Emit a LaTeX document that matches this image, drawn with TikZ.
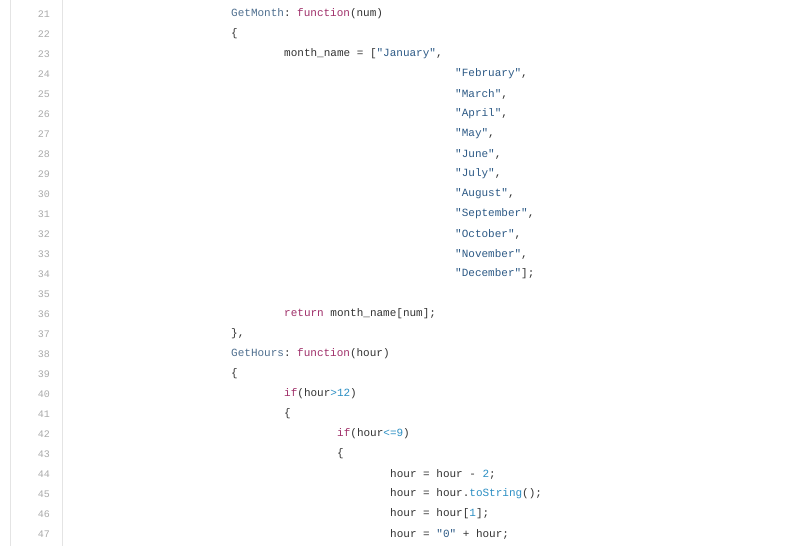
\documentclass[tikz,border=0pt]{standalone}
\usepackage{fontspec}
\setmonofont{Liberation Mono}
\usepackage{xcolor}
\definecolor{kw}{HTML}{A0306A}
\definecolor{fn}{HTML}{4F6F8F}
\definecolor{str}{HTML}{2D5A86}
\definecolor{num}{HTML}{2C8FC4}
\definecolor{txt}{HTML}{333333}
\definecolor{lnum}{HTML}{AAAAAA}
\definecolor{rule}{HTML}{E4E4E4}
\newcommand{\kw}[1]{\textcolor{kw}{#1}}
\newcommand{\fnc}[1]{\textcolor{fn}{#1}}
\newcommand{\str}[1]{\textcolor{str}{#1}}
\newcommand{\nm}[1]{\textcolor{num}{#1}}
\begin{document}
\begin{tikzpicture}[x=1pt,y=-1pt,
  code/.style={anchor=west,inner sep=0pt,font=\ttfamily\fontsize{11}{11}\selectfont,text=txt},
  lineno/.style={anchor=east,inner sep=0pt,font=\ttfamily\fontsize{10}{10}\selectfont,text=lnum}]
	\useasboundingbox[fill=white] (0,0) rectangle (789,546);
	
	% gutter
	\draw[rule] (10.5,0) -- (10.5,546);
	\draw[rule] (62.5,0) -- (62.5,546);
	\foreach \n in {21,...,47}
		\node[lineno] (L\n) at (50,{14+20*(\n-21)}) {\n};
	
	% code lines
	\node[code] (C21) at (231,14) {\fnc{GetMonth}: \kw{function}(num)};
	\node[code] (C22) at (231,34) {\{};
	\node[code] (C23) at (284,54) {month\_name = [\str{"January"},};
	\node[code] (C24) at (455,74) {\str{"February"},};
	\node[code] (C25) at (455,94) {\str{"March"},};
	\node[code] (C26) at (455,114) {\str{"April"},};
	\node[code] (C27) at (455,134) {\str{"May"},};
	\node[code] (C28) at (455,154) {\str{"June"},};
	\node[code] (C29) at (455,174) {\str{"July"},};
	\node[code] (C30) at (455,194) {\str{"August"},};
	\node[code] (C31) at (455,214) {\str{"September"},};
	\node[code] (C32) at (455,234) {\str{"October"},};
	\node[code] (C33) at (455,254) {\str{"November"},};
	\node[code] (C34) at (455,274) {\str{"December"}];};
	\node[code] (C36) at (284,314) {\kw{return} month\_name[num];};
	\node[code] (C37) at (231,334) {\},};
	\node[code] (C38) at (231,354) {\fnc{GetHours}: \kw{function}(hour)};
	\node[code] (C39) at (231,374) {\{};
	\node[code] (C40) at (284,394) {\kw{if}(hour\nm{>}\nm{12})};
	\node[code] (C41) at (284,414) {\{};
	\node[code] (C42) at (337,434) {\kw{if}(hour\nm{<=}\nm{9})};
	\node[code] (C43) at (337,454) {\{};
	\node[code] (C44) at (390,474) {hour = hour - \nm{2};};
	\node[code] (C45) at (390,494) {hour = hour.\nm{toString}();};
	\node[code] (C46) at (390,514) {hour = hour[\nm{1}];};
	\node[code] (C47) at (390,534) {hour = \str{"0"} + hour;};

\end{tikzpicture}
\end{document}
